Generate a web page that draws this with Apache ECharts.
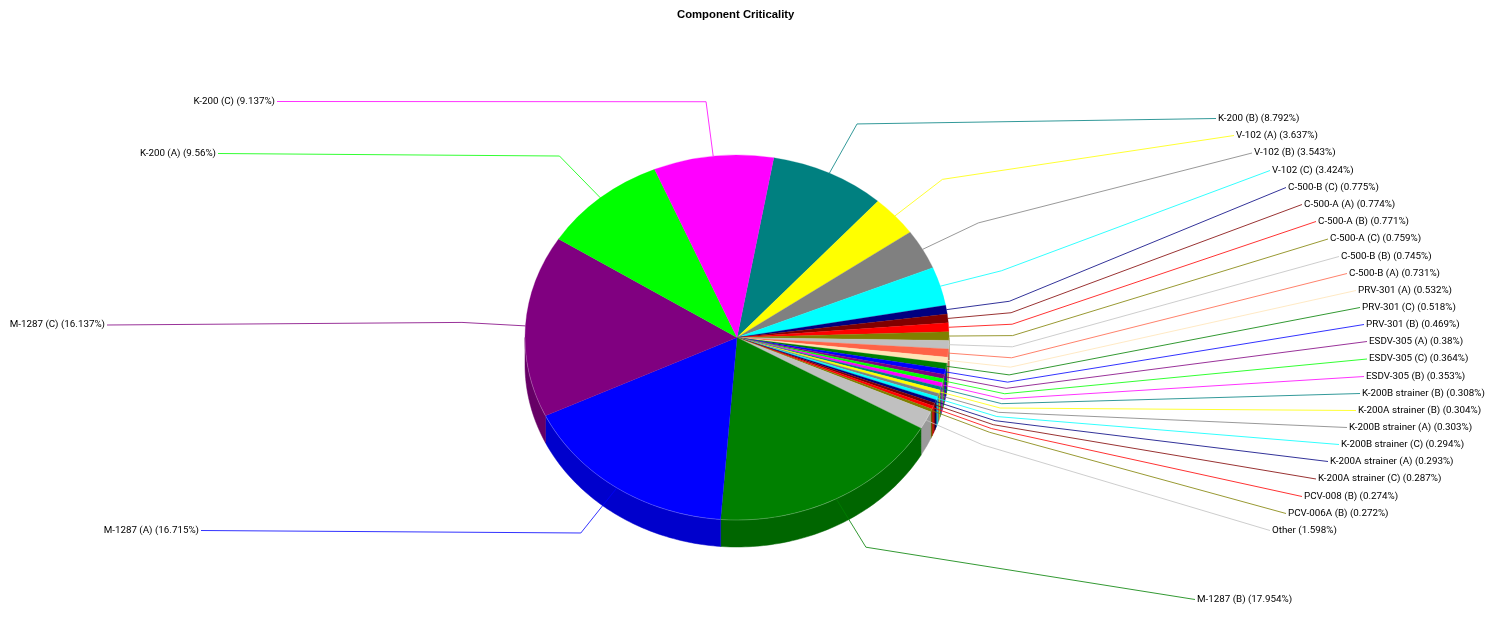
<!DOCTYPE html>
<html>
<head>
<meta charset="utf-8">
<title>Component Criticality</title>
<style>
  html, body { margin: 0; padding: 0; background: #fff; }
  #chart { width: 1500px; height: 619px; }
</style>
<script src="https://cdn.jsdelivr.net/npm/echarts@6/dist/echarts.min.js"></script>
</head>
<body>
<div id="chart"></div>
<script>
// values, clockwise from the first slice
const categories = [
  'K-200 (B)', 'V-102 (A)', 'V-102 (B)', 'V-102 (C)',
  'C-500-B (C)', 'C-500-A (A)', 'C-500-A (B)', 'C-500-A (C)', 'C-500-B (B)', 'C-500-B (A)',
  'PRV-301 (A)', 'PRV-301 (C)', 'PRV-301 (B)',
  'ESDV-305 (A)', 'ESDV-305 (C)', 'ESDV-305 (B)',
  'K-200B strainer (B)', 'K-200A strainer (B)', 'K-200B strainer (A)',
  'K-200B strainer (C)', 'K-200A strainer (A)', 'K-200A strainer (C)',
  'PCV-008 (B)', 'PCV-006A (B)', 'Other',
  'M-1287 (B)', 'M-1287 (A)', 'M-1287 (C)', 'K-200 (A)', 'K-200 (C)'
];
const shares = [
  8.792, 3.637, 3.543, 3.424,
  0.775, 0.774, 0.771, 0.759, 0.745, 0.731,
  0.532, 0.518, 0.469,
  0.38, 0.364, 0.353,
  0.308, 0.304, 0.303,
  0.294, 0.293, 0.287,
  0.274, 0.272, 1.598,
  17.954, 16.715, 16.137, 9.56, 9.137
];
const sliceColors = [
  '#008080', '#ffff00', '#808080', '#00ffff',
  '#000080', '#800000', '#ff0000', '#808000', '#c0c0c0', '#ff6347',
  '#ffe4b5', '#008000', '#0000ff',
  '#800080', '#00ff00', '#ff00ff',
  '#008080', '#ffff00', '#808080',
  '#00ffff', '#000080', '#800000',
  '#ff0000', '#808000', '#c0c0c0',
  '#008000', '#0000ff', '#800080', '#00ff00', '#ff00ff'
];

// where each label sits; the last five hang off the left or bottom of the pie
const labelX = [
  1218, 1236, 1254, 1272, 1288, 1304, 1318, 1330, 1341, 1349,
  1358, 1362, 1366, 1369, 1369, 1366, 1362, 1358, 1349, 1341,
  1330, 1318, 1304, 1288, 1272, 1197, 199, 105, 216, 275
];
const labelY = [
  118.5, 135.5, 153, 170.5, 187.5, 204.5, 221.5, 239, 256.5, 273.5,
  290.5, 307.5, 324.5, 341.5, 359, 376.5, 393.5, 410.5, 427.5, 444.5,
  461.5, 479, 496.5, 513.5, 530.5, 599.5, 530.5, 325, 153.5, 101.5
];

const CX = 737, CY = 337.5, RX = 212, RY = 182.5, DEPTH = 27;
const START_DEG = 10, ELBOW = 1.3;
const FONT = '9.8px Roboto, "Liberation Sans", Arial, sans-serif';

const total = shares.reduce((a, b) => a + b, 0);
const sliceFrom = [];
shares.reduce((acc, v, i) => {
  sliceFrom[i] = START_DEG + acc / total * 360;
  return acc + v;
}, 0);

// deg is clockwise from 12 o'clock
function rim(deg, k) {
  const a = deg * Math.PI / 180;
  return [CX + RX * k * Math.sin(a), CY - RY * k * Math.cos(a)];
}
function darker(hex) {
  const n = parseInt(hex.slice(1), 16);
  const c = s => Math.round(((n >> s) & 255) * 0.8);
  return 'rgb(' + c(16) + ',' + c(8) + ',' + c(0) + ')';
}
function sweep(i, api) {
  const from = sliceFrom[i];
  return [from, from + api.value(0) / total * 360];
}
// points of the rim that face the viewer, 3 to 9 o'clock
function frontRim(from, to) {
  const s = Math.max(from, 90), e = Math.min(to, 270);
  const pts = [];
  if (e <= s) return pts;
  for (let d = s; ; d += 1) {
    pts.push(rim(Math.min(d, e), 1));
    if (d >= e) break;
  }
  return pts;
}

function renderWall(params, api) {
  const [from, to] = sweep(params.dataIndex, api);
  const top = frontRim(from, to);
  if (!top.length) return null;
  const bottom = top.map(p => [p[0], p[1] + DEPTH]).reverse();
  const fill = darker(sliceColors[params.dataIndex]);
  return {
    type: 'polygon',
    shape: { points: top.concat(bottom) },
    style: { fill: fill, stroke: fill, lineWidth: 0.5 }
  };
}

function renderTop(params, api) {
  const [from, to] = sweep(params.dataIndex, api);
  const color = sliceColors[params.dataIndex];
  const children = [{
    type: 'sector',
    x: CX, y: CY, scaleX: 1, scaleY: RY / RX,
    shape: {
      cx: 0, cy: 0, r0: 0, r: RX,
      startAngle: (from - 90) * Math.PI / 180,
      endAngle: (to - 90) * Math.PI / 180,
      clockwise: true
    },
    style: { fill: color, stroke: color, lineWidth: 0.3 }
  }];
  const edge = frontRim(from, to);
  if (edge.length > 1) {
    // faint highlight where the top meets the wall
    children.push({
      type: 'polyline',
      shape: { points: edge },
      style: { fill: null, stroke: 'rgba(255,255,255,0.22)', lineWidth: 1 }
    });
  }
  return { type: 'group', children: children };
}

function renderLabel(params, api) {
  const i = params.dataIndex;
  const [from, to] = sweep(i, api);
  const mid = (from + to) / 2;
  const onLeft = labelX[i] < CX;
  const end = [labelX[i] + (onLeft ? 2 : -2), labelY[i]];
  return {
    type: 'group',
    children: [{
      type: 'polyline',
      shape: { points: [rim(mid, 1), rim(mid, ELBOW), end] },
      style: { fill: null, stroke: sliceColors[i], lineWidth: 1, opacity: 0.8 }
    }, {
      type: 'text',
      x: labelX[i], y: labelY[i],
      style: {
        text: categories[i] + ' (' + api.value(0) + '%)',
        font: FONT, fill: '#000',
        align: onLeft ? 'right' : 'left', verticalAlign: 'middle'
      }
    }]
  };
}

const chart = echarts.init(document.getElementById('chart'), null, { renderer: 'canvas' });
const rows = shares.map(v => [v]);
chart.setOption({
  animation: false,
  backgroundColor: '#fff',
  title: {
    text: 'Component Criticality',
    left: 672, top: 4,
    textStyle: { fontFamily: '"Liberation Sans", Arial, sans-serif', fontSize: 11.3, fontWeight: 'bold', color: '#000' }
  },
  series: [
    { type: 'custom', coordinateSystem: 'none', z: 1, silent: true, data: rows, renderItem: renderWall },
    { type: 'custom', coordinateSystem: 'none', z: 2, silent: true, data: rows, renderItem: renderTop },
    { type: 'custom', coordinateSystem: 'none', z: 3, silent: true, data: rows, renderItem: renderLabel }
  ]
});
</script>
</body>
</html>
